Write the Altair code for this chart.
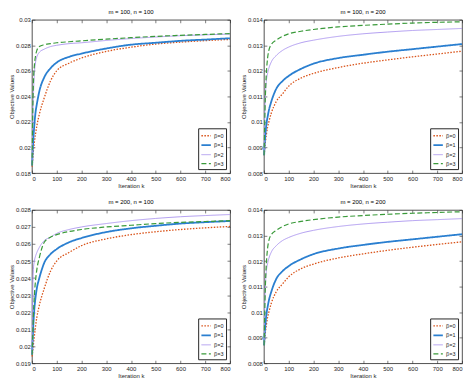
import altair as alt
import pandas as pd

K = [1, 3, 6, 10, 15, 20, 30, 50, 75, 100, 150, 200, 300, 400, 500, 600, 700, 800]
BETAS = ["β=0", "β=1", "β=2", "β=3"]
COLORS = ["#D95319", "#2A7FD0", "#A993EE", "#3A9A3A"]
DASHES = [[1.5, 1.5], [1, 0], [1, 0], [5, 2.5]]
WIDTHS = [1.3, 1.8, 0.9, 1.2]

# Panel 1: m=100, n=100
p1_b0 = [0.0185, 0.0190, 0.0197, 0.0204, 0.0211, 0.0217, 0.0226, 0.0239, 0.0252, 0.0260, 0.0266, 0.0270, 0.02752, 0.02785, 0.0281, 0.02825, 0.02837, 0.02846]
p1_b1 = [0.0186, 0.0196, 0.0207, 0.0218, 0.0228, 0.0234, 0.0244, 0.0255, 0.0262, 0.02665, 0.0271, 0.02735, 0.02775, 0.02805, 0.0282, 0.02835, 0.02845, 0.02855]
p1_b2 = [0.0186, 0.0215, 0.0240, 0.0258, 0.0267, 0.0271, 0.02745, 0.0277, 0.0279, 0.0280, 0.02813, 0.0282, 0.02838, 0.02853, 0.02865, 0.02875, 0.02882, 0.02888]
p1_b3 = [0.0186, 0.0222, 0.0250, 0.0264, 0.0272, 0.0276, 0.0279, 0.02805, 0.02813, 0.0282, 0.02828, 0.02835, 0.02848, 0.0286, 0.0287, 0.02878, 0.02885, 0.02892]

# Panel 2: m=100, n=200
p2_b0 = [0.0087, 0.0089, 0.0092, 0.0095, 0.0098, 0.0100, 0.01035, 0.0108, 0.0111, 0.0114, 0.01172, 0.0119, 0.01213, 0.0123, 0.01243, 0.01255, 0.01266, 0.01277]
p2_b1 = [0.0087, 0.0091, 0.0095, 0.0099, 0.0102, 0.01045, 0.0108, 0.0113, 0.0116, 0.0118, 0.01208, 0.01228, 0.0125, 0.01263, 0.01275, 0.01285, 0.01295, 0.01305]
p2_b2 = [0.0087, 0.0100, 0.0110, 0.0116, 0.0119, 0.0121, 0.01235, 0.0126, 0.0128, 0.01293, 0.0131, 0.0132, 0.01335, 0.01345, 0.01352, 0.01358, 0.01362, 0.01366]
p2_b3 = [0.0087, 0.0098, 0.0110, 0.0119, 0.0125, 0.0128, 0.01303, 0.0132, 0.01335, 0.01345, 0.01355, 0.01362, 0.01372, 0.01378, 0.01383, 0.01387, 0.0139, 0.01392]

# Panel 3: m=200, n=100
p3_b0 = [0.0194, 0.0197, 0.0201, 0.0206, 0.0212, 0.0217, 0.0224, 0.0234, 0.0244, 0.0250, 0.0255, 0.0259, 0.0263, 0.02655, 0.02672, 0.02685, 0.02695, 0.02703]
p3_b1 = [0.0195, 0.0203, 0.0213, 0.0222, 0.0229, 0.0234, 0.0240, 0.0249, 0.0254, 0.0257, 0.0261, 0.02635, 0.0267, 0.02692, 0.02707, 0.0272, 0.02728, 0.02735]
p3_b2 = [0.0195, 0.0228, 0.0245, 0.0250, 0.0253, 0.0255, 0.0258, 0.0262, 0.0264, 0.02662, 0.02685, 0.0270, 0.0272, 0.02737, 0.0275, 0.0276, 0.02767, 0.02773]
p3_b3 = [0.0195, 0.0205, 0.0218, 0.0230, 0.0239, 0.0245, 0.0252, 0.0261, 0.0264, 0.02655, 0.02673, 0.02685, 0.0270, 0.0271, 0.0272, 0.02727, 0.02732, 0.02737]

# Panel 4: m=200, n=200
p4_b0 = [0.0087, 0.0089, 0.0092, 0.0095, 0.0098, 0.0100, 0.01035, 0.0108, 0.0111, 0.01138, 0.0117, 0.01188, 0.01212, 0.01228, 0.01242, 0.01254, 0.01265, 0.01275]
p4_b1 = [0.0087, 0.0091, 0.0095, 0.0099, 0.0102, 0.01045, 0.0108, 0.0113, 0.0116, 0.0118, 0.01207, 0.01227, 0.01249, 0.01263, 0.01275, 0.01285, 0.01295, 0.01305]
p4_b2 = [0.0087, 0.0100, 0.0110, 0.0116, 0.0119, 0.0121, 0.01235, 0.0126, 0.0128, 0.01292, 0.01309, 0.0132, 0.01335, 0.01345, 0.01352, 0.01358, 0.01362, 0.01366]
p4_b3 = [0.0087, 0.0098, 0.0110, 0.0119, 0.0125, 0.0128, 0.01303, 0.0132, 0.01335, 0.01345, 0.01355, 0.01362, 0.01372, 0.01378, 0.01383, 0.01387, 0.0139, 0.01393]

TITLES = ["m = 100, n = 100", "m = 100, n = 200", "m = 200, n = 100", "m = 200, n = 200"]
Y_DOMAINS = [[0.018, 0.03], [0.008, 0.014], [0.019, 0.028], [0.008, 0.014]]
Y_TICKS = [
    [0.018, 0.02, 0.022, 0.024, 0.026, 0.028, 0.03],
    [0.008, 0.009, 0.01, 0.011, 0.012, 0.013, 0.014],
    [0.019, 0.02, 0.021, 0.022, 0.023, 0.024, 0.025, 0.026, 0.027, 0.028],
    [0.008, 0.009, 0.01, 0.011, 0.012, 0.013, 0.014],
]
X_TICKS = [0, 100, 200, 300, 400, 500, 600, 700, 800]

W, H = 199, 154
FONT = "Liberation Sans"
INK = "#262626"


def tick_axis(orient, values):
    return alt.Axis(orient=orient, values=values, labels=False, domain=False,
                    ticks=True, tickSize=3, tickWidth=0.6, tickColor=INK,
                    offset=-3, title=None, grid=False)


def panel(series, title, ydom, yticks):
    rows = []
    for b, vals in zip(BETAS, series):
        for k, v in zip(K, vals):
            rows.append({"k": k, "v": v, "beta": b})
    df = pd.DataFrame(rows)
    xs = alt.Scale(domain=[0, 800], nice=False, zero=False)
    ys = alt.Scale(domain=ydom, nice=False, zero=False)
    base = alt.Chart(df)
    lines = base.mark_line(interpolate="monotone").encode(
        x=alt.X("k:Q", scale=xs,
                axis=alt.Axis(orient="bottom", values=X_TICKS, format="d", ticks=False,
                              domain=False, grid=False, title="Iteration k",
                              labelPadding=2, titlePadding=1)),
        y=alt.Y("v:Q", scale=ys,
                axis=alt.Axis(orient="left", values=yticks, format="~g", ticks=False,
                              domain=False, grid=False, title="Objective Values",
                              labelPadding=1.5, titlePadding=1)),
        color=alt.Color("beta:N", scale=alt.Scale(domain=BETAS, range=COLORS),
                        legend=alt.Legend(title=None)),
        strokeDash=alt.StrokeDash("beta:N", scale=alt.Scale(domain=BETAS, range=DASHES),
                                  legend=alt.Legend(title=None)),
        strokeWidth=alt.StrokeWidth("beta:N",
                                    scale=alt.Scale(type="ordinal", domain=BETAS, range=WIDTHS),
                                    legend=alt.Legend(title=None)),
    )
    inner1 = base.mark_line(opacity=0).encode(
        x=alt.X("k:Q", scale=xs, axis=tick_axis("bottom", X_TICKS)),
        y=alt.Y("v:Q", scale=ys, axis=tick_axis("left", yticks)),
    )
    inner2 = base.mark_line(opacity=0).encode(
        x=alt.X("k:Q", scale=xs, axis=tick_axis("top", X_TICKS)),
        y=alt.Y("v:Q", scale=ys, axis=tick_axis("right", yticks)),
    )
    return alt.layer(lines, inner1, inner2).resolve_axis(
        x="independent", y="independent"
    ).properties(width=W, height=H, title=alt.TitleParams(text=title))


ALL = [
    [p1_b0, p1_b1, p1_b2, p1_b3],
    [p2_b0, p2_b1, p2_b2, p2_b3],
    [p3_b0, p3_b1, p3_b2, p3_b3],
    [p4_b0, p4_b1, p4_b2, p4_b3],
]

panels = [panel(s, t, d, yt) for s, t, d, yt in zip(ALL, TITLES, Y_DOMAINS, Y_TICKS)]

chart = alt.concat(*panels, columns=2, spacing={"row": 10, "column": 6}).resolve_scale(
    color="independent", strokeDash="independent", strokeWidth="independent"
).resolve_legend(
    color="independent", strokeDash="independent", strokeWidth="independent"
).properties(
    padding=0, background="white"
).configure_view(
    stroke=INK, strokeWidth=0.8
).configure_axis(
    labelFont=FONT, labelFontSize=6, labelColor=INK,
    titleFont=FONT, titleFontSize=6, titleFontWeight="normal", titleColor=INK,
).configure_title(
    font=FONT, fontSize=6, fontWeight="normal", color="black", offset=1.5
).configure_legend(
    orient="bottom-right", offset=4, fillColor="white", strokeColor=INK,
    padding=2, labelFont=FONT, labelFontSize=5.5, labelColor=INK,
    symbolSize=90, symbolType="stroke", rowPadding=0, labelOffset=2,
)

chart.save("out.html", embed_options={"renderer": "svg", "actions": False})
